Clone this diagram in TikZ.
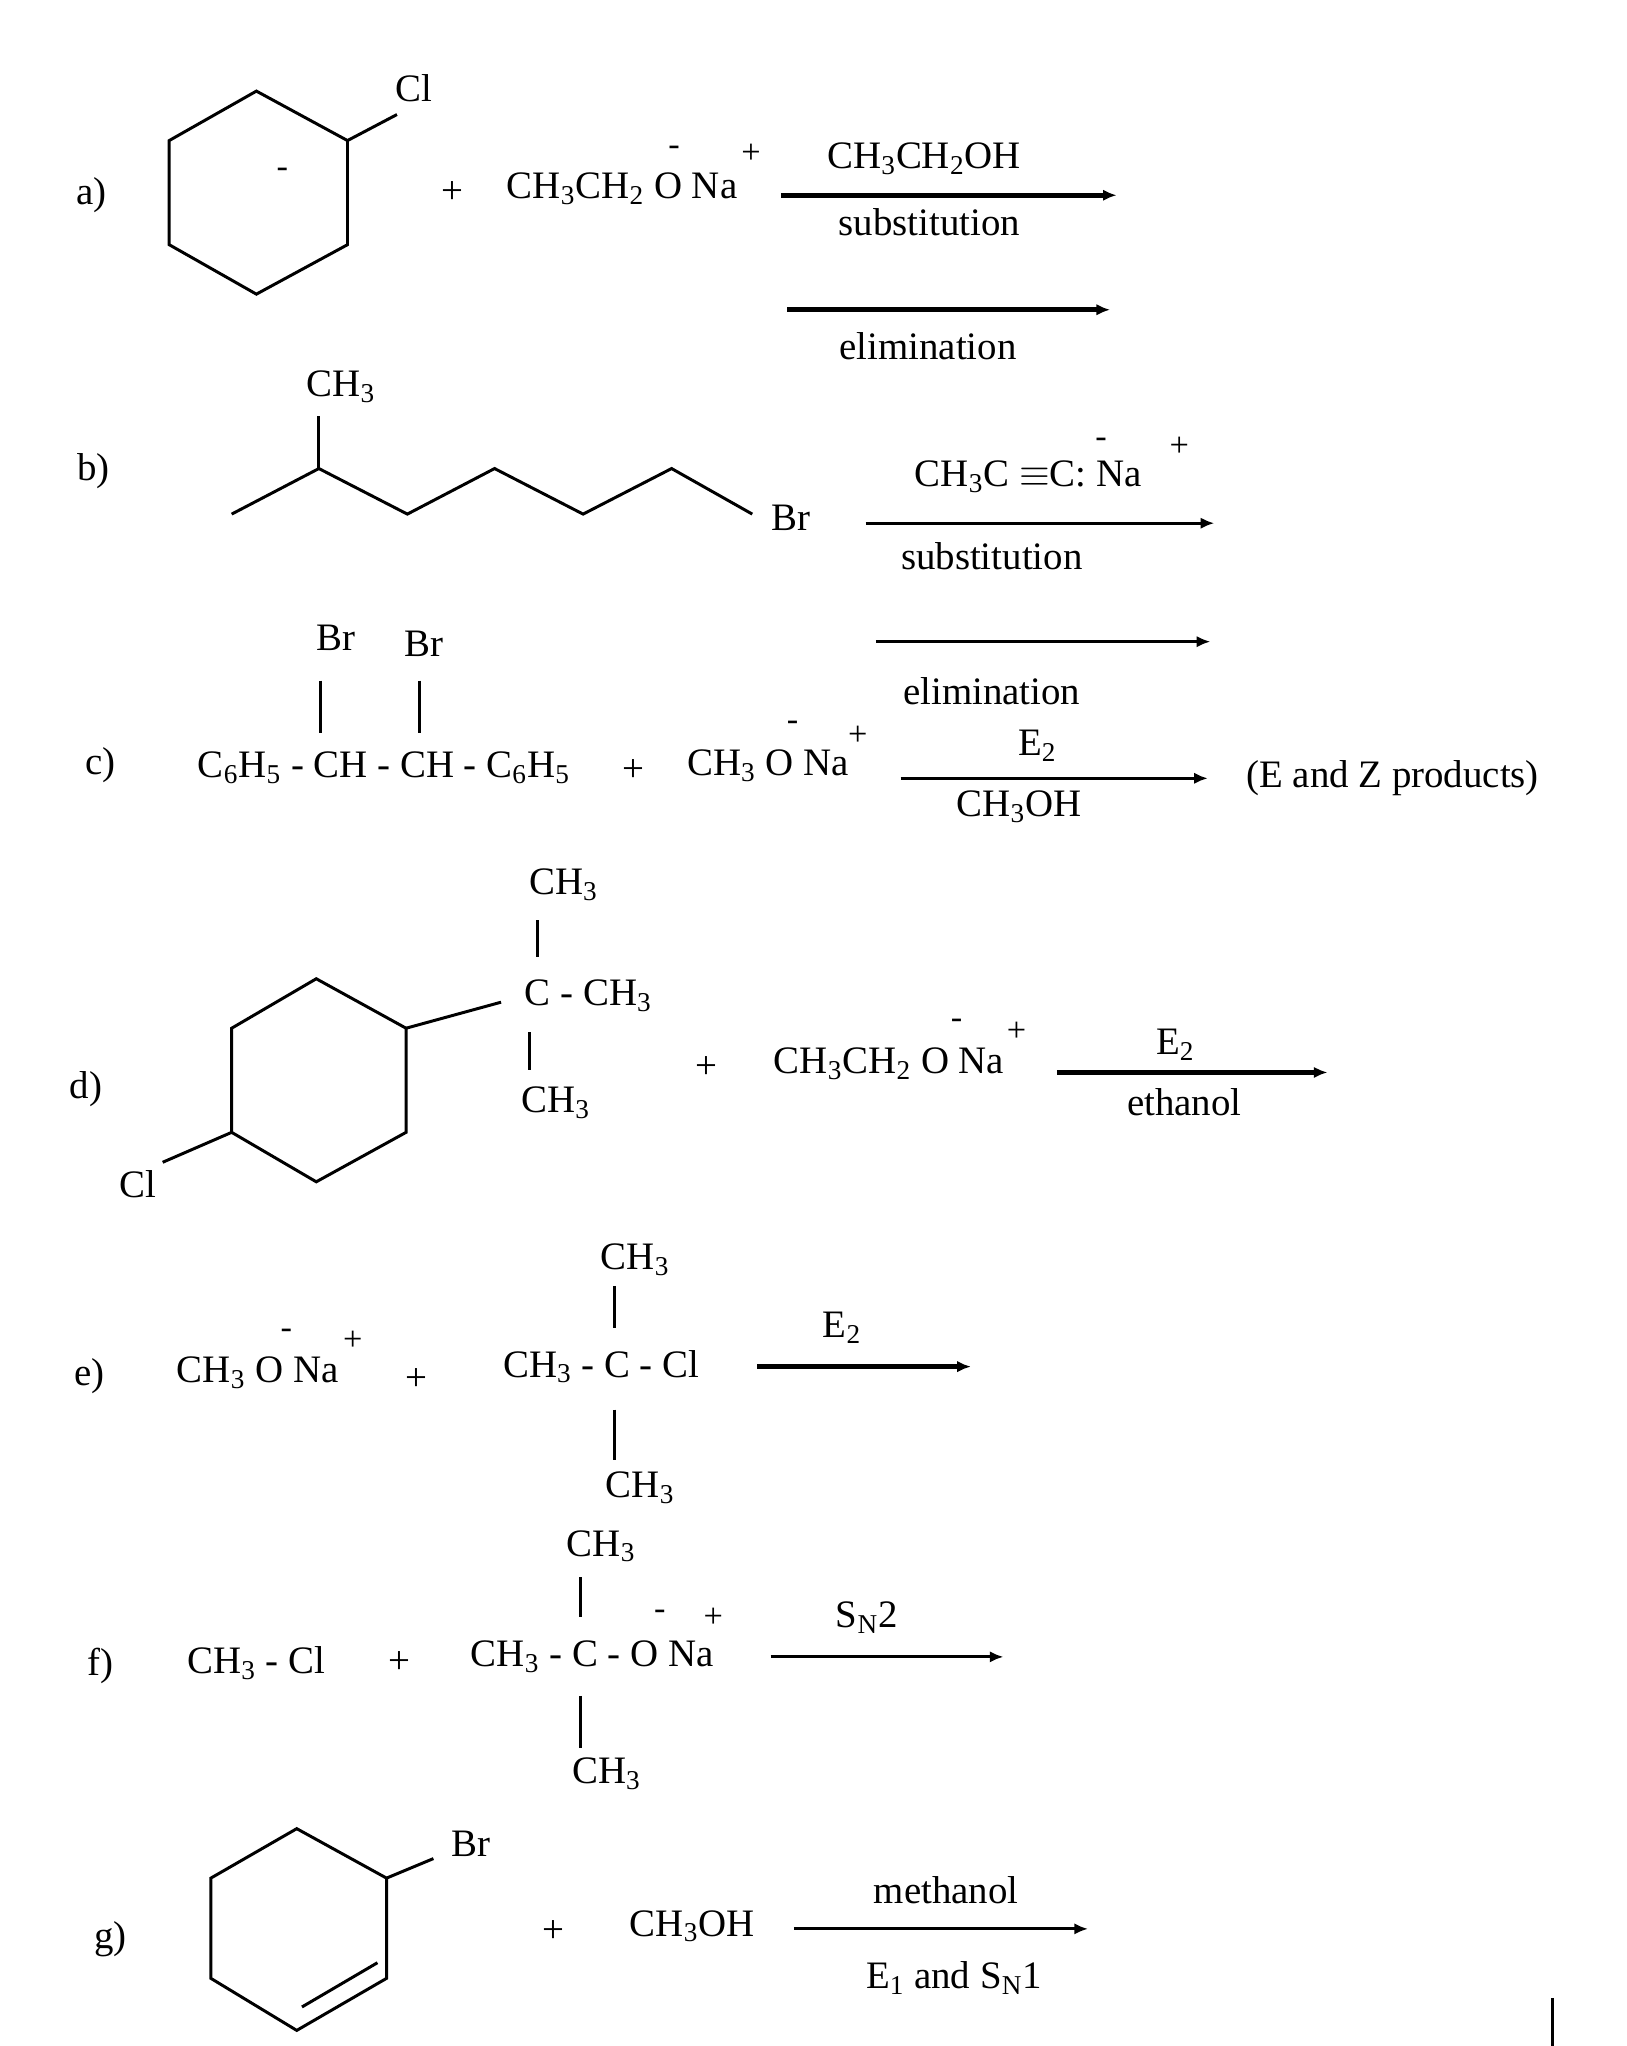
\documentclass[tikz,border=0pt]{standalone}
\usepackage{fontspec}
\setmainfont{Liberation Serif}
\usetikzlibrary{arrows.meta}
\newcommand{\sub}[1]{\textsubscript{#1}}
\begin{document}
\begin{tikzpicture}[x=0.02cm,y=-0.02cm,
  every node/.style={inner sep=0pt,font=\fontsize{17}{20}\selectfont},
  bond/.style={line width=1.3pt},
  rxn/.style={line width=1.3pt,-{Latex[length=6pt,width=5pt]}},
  rxnthick/.style={line width=2.2pt,-{Latex[length=6pt,width=5pt]}},
  chg/.style={font=\fontsize{15}{15}\selectfont}]
\useasboundingbox (0,0) rectangle (1250,1572);
% a
\node (la) at (70,150) {a)};
\draw[bond] (197,70)--(267,108)--(267,188)--(197,226)--(130,188)--(130,108)--cycle;
\coordinate (a1) at (267,108); \coordinate (a2) at (305,88);
\draw[bond] (a1)--(a2);
\node (acl) at (318,68) {Cl};
\node[chg] (am) at (217,133) {-};
\node (ap) at (348,148) {+};
\node (ar) at (478,145) {CH\sub3CH\sub2 O Na};
\node[chg] (arm) at (518,116) {-};
\node[chg] (arp) at (577,118) {+};
\coordinate (aa1) at (600,150); \coordinate (aa2) at (858,150);
\draw[rxnthick] (aa1)--(aa2);
\node (aat) at (710,122) {CH\sub3CH\sub2OH};
\node (aab) at (714,171) {substitution};
\coordinate (ab1) at (605,238); \coordinate (ab2) at (853,238);
\draw[rxnthick] (ab1)--(ab2);
\node (abb) at (713,266) {elimination};
% b
\node (lb) at (72,362) {b)};
\draw[bond] (178,395)--(245,360)--(313,395)--(380,360)--(448,395)--(516,360)--(578,395);
\draw[bond] (245,360)--(245,320);
\node (bch) at (262,297) {CH\sub3};
\node (bbr) at (608,398) {Br};
\coordinate (ba1) at (665,402); \coordinate (ba2) at (933,402);
\draw[rxn] (ba1)--(ba2);
\node (bat) at (790,366) {CH\sub3C $\equiv$C: Na};
\node[chg] (bm) at (846,340) {-};
\node[chg] (bp) at (906,343) {+};
\node (bab) at (762,427) {substitution};
\coordinate (bb1) at (673,493); \coordinate (bb2) at (930,493);
\draw[rxn] (bb1)--(bb2);
\node (bbb) at (762,531) {elimination};
% c
\node (lc) at (77,588) {c)};
\node (cm) at (295,590) {C\sub6H\sub5 - CH - CH - C\sub6H\sub5};
\node (cb1) at (258,490) {Br};
\node (cb2) at (326,495) {Br};
\draw[bond] (246,523)--(246,563);
\draw[bond] (322,523)--(322,563);
\node (cp) at (487,592) {+};
\node (cr) at (590,588) {CH\sub3 O Na};
\node[chg] (crm) at (609,558) {-};
\node[chg] (crp) at (659,565) {+};
\coordinate (ca1) at (692,598); \coordinate (ca2) at (928,598);
\draw[rxn] (ca1)--(ca2);
\node (cat) at (797,573) {E\sub2};
\node (cab) at (783,620) {CH\sub3OH};
\node (cprod) at (1070,598) {(E and Z products)};
% d
\node (ld) at (66,837) {d)};
\draw[bond] (243,752)--(312,790)--(312,870)--(243,908)--(178,870)--(178,790)--cycle;
\draw[bond] (312,790)--(385,770);
\node (dc1) at (433,680) {CH\sub3};
\draw[bond] (413,707)--(413,735);
\node (dc) at (452,765) {C - CH\sub3};
\draw[bond] (407,793)--(407,822);
\node (dc2) at (427,847) {CH\sub3};
\draw[bond] (178,870)--(125,893);
\node (dcl) at (106,910) {Cl};
\node (dp) at (543,820) {+};
\node (dr) at (683,817) {CH\sub3CH\sub2 O Na};
\node[chg] (drm) at (735,787) {-};
\node[chg] (drp) at (781,793) {+};
\coordinate (da1) at (812,824); \coordinate (da2) at (1020,824);
\draw[rxnthick] (da1)--(da2);
\node (dat) at (903,803) {E\sub2};
\node (dab) at (910,847) {ethanol};
% e
\node (le) at (69,1057) {e)};
\node (er) at (198,1055) {CH\sub3 O Na};
\node[chg] (erm) at (220,1025) {-};
\node[chg] (erp) at (271,1030) {+};
\node (ep) at (320,1060) {+};
\node (ec1) at (488,968) {CH\sub3};
\draw[bond] (472,988)--(472,1020);
\node (ec) at (462,1050) {CH\sub3 - C - Cl};
\draw[bond] (472,1083)--(472,1122);
\node (ec2) at (492,1143) {CH\sub3};
\coordinate (ea1) at (582,1050); \coordinate (ea2) at (746,1050);
\draw[rxnthick] (ea1)--(ea2);
\node (eat) at (647,1020) {E\sub2};
% f
\node (lf) at (77,1280) {f)};
\node (fr) at (197,1278) {CH\sub3 - Cl};
\node (fp) at (307,1277) {+};
\node (fc1) at (462,1188) {CH\sub3};
\draw[bond] (446,1212)--(446,1242);
\node (fc) at (455,1273) {CH\sub3 - C - O Na};
\node[chg] (fm) at (507,1241) {-};
\node[chg] (fpl) at (548,1243) {+};
\draw[bond] (446,1303)--(446,1343);
\node (fc2) at (466,1363) {CH\sub3};
\coordinate (fa1) at (592,1273); \coordinate (fa2) at (771,1273);
\draw[rxn] (fa1)--(fa2);
\node (fat) at (666,1243) {S\sub{N}2};
% g
\node (lg) at (85,1490) {g)};
\draw[bond] (228,1405)--(297,1443)--(297,1520)--(228,1560)--(162,1520)--(162,1443)--cycle;
\draw[bond] (290,1508)--(232,1542);
\draw[bond] (297,1443)--(333,1428);
\node (gbr) at (362,1417) {Br};
\node (gp) at (425,1484) {+};
\node (gr) at (532,1480) {CH\sub3OH};
\coordinate (ga1) at (610,1482); \coordinate (ga2) at (836,1482);
\draw[rxn] (ga1)--(ga2);
\node (gat) at (727,1452) {methanol};
\node (gab) at (733,1520) {E\sub1 and S\sub{N}1};
\draw[bond] (1193,1535)--(1193,1572);
\end{tikzpicture}
\end{document}
